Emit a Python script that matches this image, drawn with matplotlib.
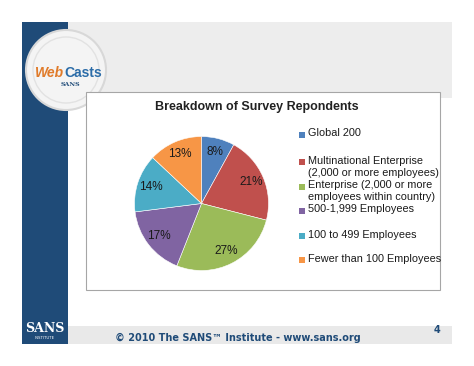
import matplotlib.pyplot as plt
from matplotlib.patches import Rectangle, Circle

# survey data
categories = ['Global 200',
              'Multinational Enterprise\n(2,000 or more employees)',
              'Enterprise (2,000 or more\nemployees within country)',
              '500-1,999 Employees',
              '100 to 499 Employees',
              'Fewer than 100 Employees']
shares = [8, 21, 27, 17, 14, 13]
colors = ['#4F81BD', '#C0504D', '#9BBB59', '#8064A2', '#4BACC6', '#F79646']

W, H = 474, 366
fig = plt.figure(figsize=(W / 100, H / 100), dpi=100)
sans = 'Liberation Sans'

# background / slide decorations in pixel coords
bg = fig.add_axes([0, 0, 1, 1])
bg.set_xlim(0, W)
bg.set_ylim(H, 0)
bg.axis('off')

bg.add_patch(Rectangle((68, 22), 384, 76, color='#ededed', lw=0))
bg.add_patch(Rectangle((68, 326), 384, 18, color='#e9e9e9', lw=0))
bg.add_patch(Rectangle((22, 22), 46, 322, color='#1f4b78', lw=0))

# webcasts badge
bg.add_patch(Circle((66, 70), 40, facecolor='#f4f4f4', edgecolor='#d8d8d8', lw=1.5))
bg.add_patch(Circle((66, 70), 33, facecolor='none', edgecolor='#e2e2e2', lw=1))
bg.text(64, 73, 'Web', color='#e07b2a', fontsize=10, fontweight='bold',
        style='italic', ha='right', va='center', family=sans)
bg.text(64.5, 73, 'Casts', color='#2b6ca8', fontsize=10, fontweight='bold',
        ha='left', va='center', family=sans)
bg.text(70, 85, 'SANS', color='#1f4b78', fontsize=4.5, fontweight='bold',
        family='DejaVu Serif', ha='center', va='center')

# SANS logo in the bar
bg.text(45, 328, 'SANS', color='white', fontsize=9, fontweight='bold',
        family='DejaVu Serif', ha='center', va='center')
bg.text(45, 338, 'INSTITUTE', color='white', fontsize=2.8, ha='center', va='center')

# chart box
bg.add_patch(Rectangle((86, 92), 354, 198, facecolor='white', edgecolor='#a6a6a6', lw=0.8))
bg.text(257, 107, 'Breakdown of Survey Repondents', fontsize=9, fontweight='bold',
        ha='center', va='center', color='#222222', family=sans)

# legend drawn by hand to match uneven spacing
leg_y = [135, 162, 187, 211, 236, 260]
for y, lab, c in zip(leg_y, categories, colors):
    bg.add_patch(Rectangle((299, y - 3), 6, 6, color=c, lw=0))
    bg.text(308, y - 6.5, lab, fontsize=7.8, va='top', ha='left', family=sans,
            color='#1a1a1a', linespacing=1.25)

# footer
bg.text(238, 338, '\u00a9 2010 The SANS\u2122 Institute - www.sans.org', fontsize=7.0,
        fontweight='bold', color='#1f4b78', ha='center', va='center')
bg.text(437, 330, '4', fontsize=7, fontweight='bold', color='#1f4b78',
        ha='center', va='center')

# pie
cx, cy, r = 201.5, 203.5, 67
pax = fig.add_axes([(cx - r) / W, 1 - (cy + r) / H, 2 * r / W, 2 * r / H])
pax.pie(shares, colors=colors, startangle=90, counterclock=False,
        autopct='%d%%', pctdistance=0.8,
        wedgeprops=dict(edgecolor='white', linewidth=0.4),
        textprops=dict(fontsize=8.5, color='#1a1a1a', family=sans))
pax.set_xlim(-1, 1)
pax.set_ylim(-1, 1)
pax.set_aspect('equal')

fig.savefig('out.png', dpi=100)
